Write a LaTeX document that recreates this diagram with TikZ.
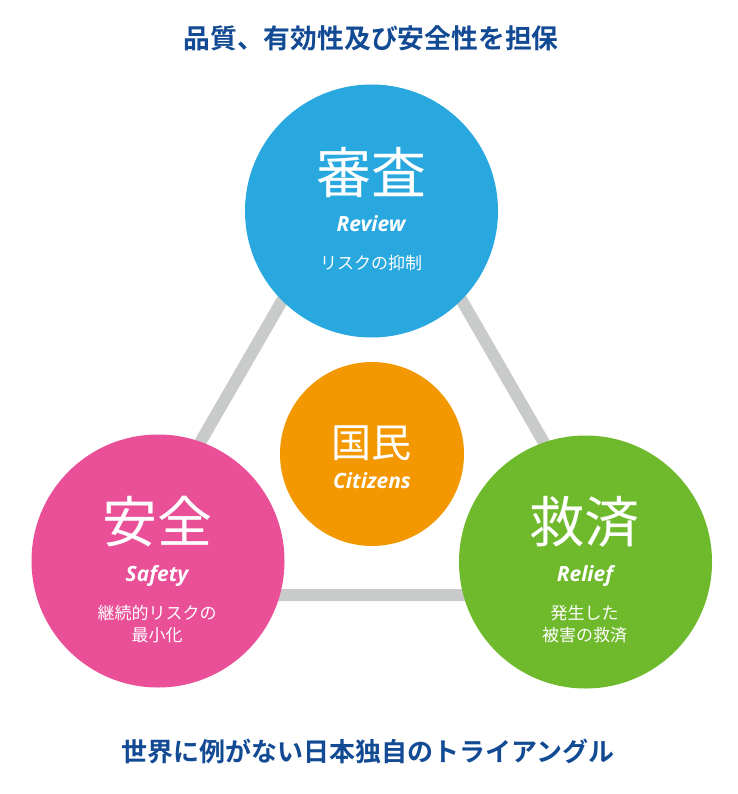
\documentclass[tikz,border=0pt]{standalone}
\usepackage{fontspec}
\newfontfamily\jp{Noto Sans CJK JP}
\newfontfamily\jpb{Noto Sans CJK JP Bold}
\newfontfamily\en{Open Sans}
\definecolor{cblue}{HTML}{29A8E0}
\definecolor{corange}{HTML}{F39800}
\definecolor{cpink}{HTML}{E95098}
\definecolor{cgreen}{HTML}{6FB92C}
\definecolor{cgray}{HTML}{C9CACA}
\definecolor{cnavy}{HTML}{124A94}
\tikzset{
  disc/.style={circle, draw=none, inner sep=0pt},
  big/.style={text=white, font=\jp\fontsize{55}{60}\selectfont, inner sep=0pt},
  mid/.style={text=white, font=\jp\fontsize{40}{44}\selectfont, inner sep=0pt},
  eng/.style={text=white, font=\en\bfseries\itshape\fontsize{21}{24}\selectfont, inner sep=0pt, anchor=base},
  small/.style={text=white, font=\jp\fontsize{17}{21.5}\selectfont, inner sep=0pt, align=center},
  headline/.style={text=cnavy, font=\jpb\fontsize{26}{30}\selectfont, inner sep=0pt},
  link/.style={draw=cgray, line width=12pt}
}
\begin{document}
\begin{tikzpicture}[x=1pt,y=-1pt]
\useasboundingbox (0,0) rectangle (737,794);
% triangle
\coordinate (tT) at (372,145);
\coordinate (tL) at (112,595);
\coordinate (tR) at (632,595);
\draw[link] (tT) -- (tL) -- (tR) -- cycle;
% circles
\node[disc, fill=cblue, minimum size=253pt] (review) at (371.5,211) {};
\node[disc, fill=cpink, minimum size=253pt] (safety) at (158,561) {};
\node[disc, fill=cgreen, minimum size=253pt] (relief) at (585.5,562) {};
\node[disc, fill=corange, minimum size=184pt] (citizens) at (372,454) {};
% texts
\node[big] (t1) at (371,173) {審査};
\node[eng] (e1) at (371,232) {Review};
\node[small] (s1) at (371,263) {リスクの抑制};

\node[mid] (t0) at (371.5,443) {国民};
\node[eng] (e0) at (372,488) {Citizens};

\node[big] (t2) at (157.5,522) {安全};
\node[eng] (e2) at (157,581) {Safety};
\node[small] (s2) at (157,624) {継続的リスクの\\最小化};

\node[big] (t3) at (584,522) {救済};
\node[eng] (e3) at (585,581) {Relief};
\node[small] (s3) at (584.5,624) {発生した\\被害の救済};

\node[headline, font=\jpb\fontsize{26.8}{30}\selectfont] (h1) at (371,38) {品質、有効性及び安全性を担保};
\node[headline] (h2) at (368,751) {世界に例がない日本独自のトライアングル};
\end{tikzpicture}
\end{document}
